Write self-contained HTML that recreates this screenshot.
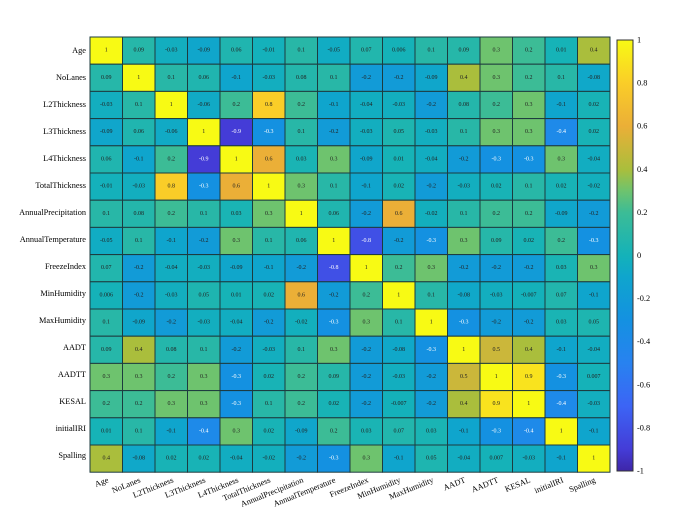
<!DOCTYPE html>
<html><head><meta charset="utf-8"><style>
body{margin:0;background:#fff;width:700px;height:532px;overflow:hidden}
svg{display:block;font-family:"Liberation Serif",serif}
.c{font-size:6px;text-anchor:middle;dominant-baseline:central}
.yl{font-size:8.3px;text-anchor:end;dominant-baseline:central}
.xl{font-size:8.3px;text-anchor:end}
.cb{font-size:8.3px;dominant-baseline:central}
</style></head><body>
<svg id="s" width="700" height="532" xmlns="http://www.w3.org/2000/svg">
<defs><linearGradient id="g" x1="0" y1="1" x2="0" y2="0">
<stop offset="0" stop-color="rgb(62,38,168)"/><stop offset="0.05" stop-color="rgb(68,60,215)"/><stop offset="0.15" stop-color="rgb(60,100,245)"/><stop offset="0.25" stop-color="rgb(40,130,240)"/><stop offset="0.35" stop-color="rgb(20,145,225)"/><stop offset="0.45" stop-color="rgb(15,165,205)"/><stop offset="0.5" stop-color="rgb(20,178,185)"/><stop offset="0.6" stop-color="rgb(60,188,150)"/><stop offset="0.65" stop-color="rgb(110,195,110)"/><stop offset="0.7" stop-color="rgb(170,190,60)"/><stop offset="0.8" stop-color="rgb(235,175,55)"/><stop offset="0.9" stop-color="rgb(250,205,40)"/><stop offset="1" stop-color="rgb(248,250,20)"/>
</linearGradient></defs>
<g id="cells"></g>
<g id="yl">
<text class="yl" x="86" y="50.5">Age</text><text class="yl" x="86" y="77.5">NoLanes</text><text class="yl" x="86" y="104.5">L2Thickness</text><text class="yl" x="86" y="131.5">L3Thickness</text><text class="yl" x="86" y="158.5">L4Thickness</text><text class="yl" x="86" y="185.5">TotalThickness</text><text class="yl" x="86" y="212.5">AnnualPrecipitation</text><text class="yl" x="86" y="239.5">AnnualTemperature</text><text class="yl" x="86" y="266.5">FreezeIndex</text><text class="yl" x="86" y="293.5">MinHumidity</text><text class="yl" x="86" y="320.5">MaxHumidity</text><text class="yl" x="86" y="347.5">AADT</text><text class="yl" x="86" y="374.5">AADTT</text><text class="yl" x="86" y="401.5">KESAL</text><text class="yl" x="86" y="428.5">initialIRI</text><text class="yl" x="86" y="455.5">Spalling</text>
</g>
<g id="xl">
<text class="xl" transform="translate(109,482) rotate(-22)">Age</text><text class="xl" transform="translate(141,482) rotate(-22)">NoLanes</text><text class="xl" transform="translate(174,482) rotate(-22)">L2Thickness</text><text class="xl" transform="translate(206,482) rotate(-22)">L3Thickness</text><text class="xl" transform="translate(239,482) rotate(-22)">L4Thickness</text><text class="xl" transform="translate(271,482) rotate(-22)">TotalThickness</text><text class="xl" transform="translate(304,482) rotate(-22)">AnnualPrecipitation</text><text class="xl" transform="translate(336,482) rotate(-22)">AnnualTemperature</text><text class="xl" transform="translate(369,482) rotate(-22)">FreezeIndex</text><text class="xl" transform="translate(401,482) rotate(-22)">MinHumidity</text><text class="xl" transform="translate(434,482) rotate(-22)">MaxHumidity</text><text class="xl" transform="translate(466,482) rotate(-22)">AADT</text><text class="xl" transform="translate(499,482) rotate(-22)">AADTT</text><text class="xl" transform="translate(531,482) rotate(-22)">KESAL</text><text class="xl" transform="translate(564,482) rotate(-22)">initialIRI</text><text class="xl" transform="translate(596,482) rotate(-22)">Spalling</text>
</g>
<rect x="617" y="40" width="16" height="431" fill="url(#g)" stroke="#333" stroke-width="1"/>
<g>
<text class="cb" x="637" y="40">1</text><text class="cb" x="637" y="83.1">0.8</text><text class="cb" x="637" y="126.2">0.6</text><text class="cb" x="637" y="169.3">0.4</text><text class="cb" x="637" y="212.4">0.2</text><text class="cb" x="637" y="255.5">0</text><text class="cb" x="637" y="298.6">-0.2</text><text class="cb" x="637" y="341.7">-0.4</text><text class="cb" x="637" y="384.8">-0.6</text><text class="cb" x="637" y="427.9">-0.8</text><text class="cb" x="637" y="471">-1</text>
</g>
</svg>
<div id="d" style="display:none">
1,0.09,-0.03,-0.09,0.06,-0.01,0.1,-0.05,0.07,0.006,0.1,0.09,0.3,0.2,0.01,0.4;
0.09,1,0.1,0.06,-0.1,-0.03,0.08,0.1,-0.2,-0.2,-0.09,0.4,0.3,0.2,0.1,-0.08;
-0.03,0.1,1,-0.06,0.2,0.8,0.2,-0.1,-0.04,-0.03,-0.2,0.08,0.2,0.3,-0.1,0.02;
-0.09,0.06,-0.06,1,-0.9,-0.3,0.1,-0.2,-0.03,0.05,-0.03,0.1,0.3,0.3,-0.4,0.02;
0.06,-0.1,0.2,-0.9,1,0.6,0.03,0.3,-0.09,0.01,-0.04,-0.2,-0.3,-0.3,0.3,-0.04;
-0.01,-0.03,0.8,-0.3,0.6,1,0.3,0.1,-0.1,0.02,-0.2,-0.03,0.02,0.1,0.02,-0.02;
0.1,0.08,0.2,0.1,0.03,0.3,1,0.06,-0.2,0.6,-0.02,0.1,0.2,0.2,-0.09,-0.2;
-0.05,0.1,-0.1,-0.2,0.3,0.1,0.06,1,-0.8,-0.2,-0.3,0.3,0.09,0.02,0.2,-0.3;
0.07,-0.2,-0.04,-0.03,-0.09,-0.1,-0.2,-0.8,1,0.2,0.3,-0.2,-0.2,-0.2,0.03,0.3;
0.006,-0.2,-0.03,0.05,0.01,0.02,0.6,-0.2,0.2,1,0.1,-0.08,-0.03,-0.007,0.07,-0.1;
0.1,-0.09,-0.2,-0.03,-0.04,-0.2,-0.02,-0.3,0.3,0.1,1,-0.3,-0.2,-0.2,0.03,0.05;
0.09,0.4,0.08,0.1,-0.2,-0.03,0.1,0.3,-0.2,-0.08,-0.3,1,0.5,0.4,-0.1,-0.04;
0.3,0.3,0.2,0.3,-0.3,0.02,0.2,0.09,-0.2,-0.03,-0.2,0.5,1,0.9,-0.3,0.007;
0.2,0.2,0.3,0.3,-0.3,0.1,0.2,0.02,-0.2,-0.007,-0.2,0.4,0.9,1,-0.4,-0.03;
0.01,0.1,-0.1,-0.4,0.3,0.02,-0.09,0.2,0.03,0.07,0.03,-0.1,-0.3,-0.4,1,-0.1;
0.4,-0.08,0.02,0.02,-0.04,-0.02,-0.2,-0.3,0.3,-0.1,0.05,-0.04,0.007,-0.03,-0.1,1
</div>
<script>
var P=[[0,62,38,168],[.05,68,60,215],[.15,60,100,245],[.25,40,130,240],[.35,20,145,225],[.45,15,165,205],[.5,20,178,185],[.6,60,188,150],[.65,110,195,110],[.7,170,190,60],[.8,235,175,55],[.9,250,205,40],[1,248,250,20]];
function col(v){var t=(v+1)/2;for(var i=1;i<P.length;i++){if(t<=P[i][0]){var a=P[i-1],b=P[i],f=(t-a[0])/(b[0]-a[0]);return 'rgb('+[1,2,3].map(function(k){return Math.round(a[k]+(b[k]-a[k])*f)}).join(',')+')';}}return 'rgb(248,250,20)';}
var rows=document.getElementById('d').textContent.trim().split(';');
var g=document.getElementById('cells'),h='';
var x0=90,y0=37,w=32.5,hh=27.2;
rows.forEach(function(r,i){r.trim().split(',').forEach(function(s,j){var v=parseFloat(s);var x=x0+j*w,y=y0+i*hh;
h+='<rect x="'+x+'" y="'+y+'" width="'+w+'" height="'+hh+'" fill="'+col(v)+'" stroke="#1d3b3f" stroke-width="1"/>';
h+='<text class="c" x="'+(x+w/2)+'" y="'+(y+hh/2)+'" fill="'+(v<=-0.3?'#fff':'#222')+'">'+s+'</text>';});});
g.innerHTML=h;
</script>
</body></html>
